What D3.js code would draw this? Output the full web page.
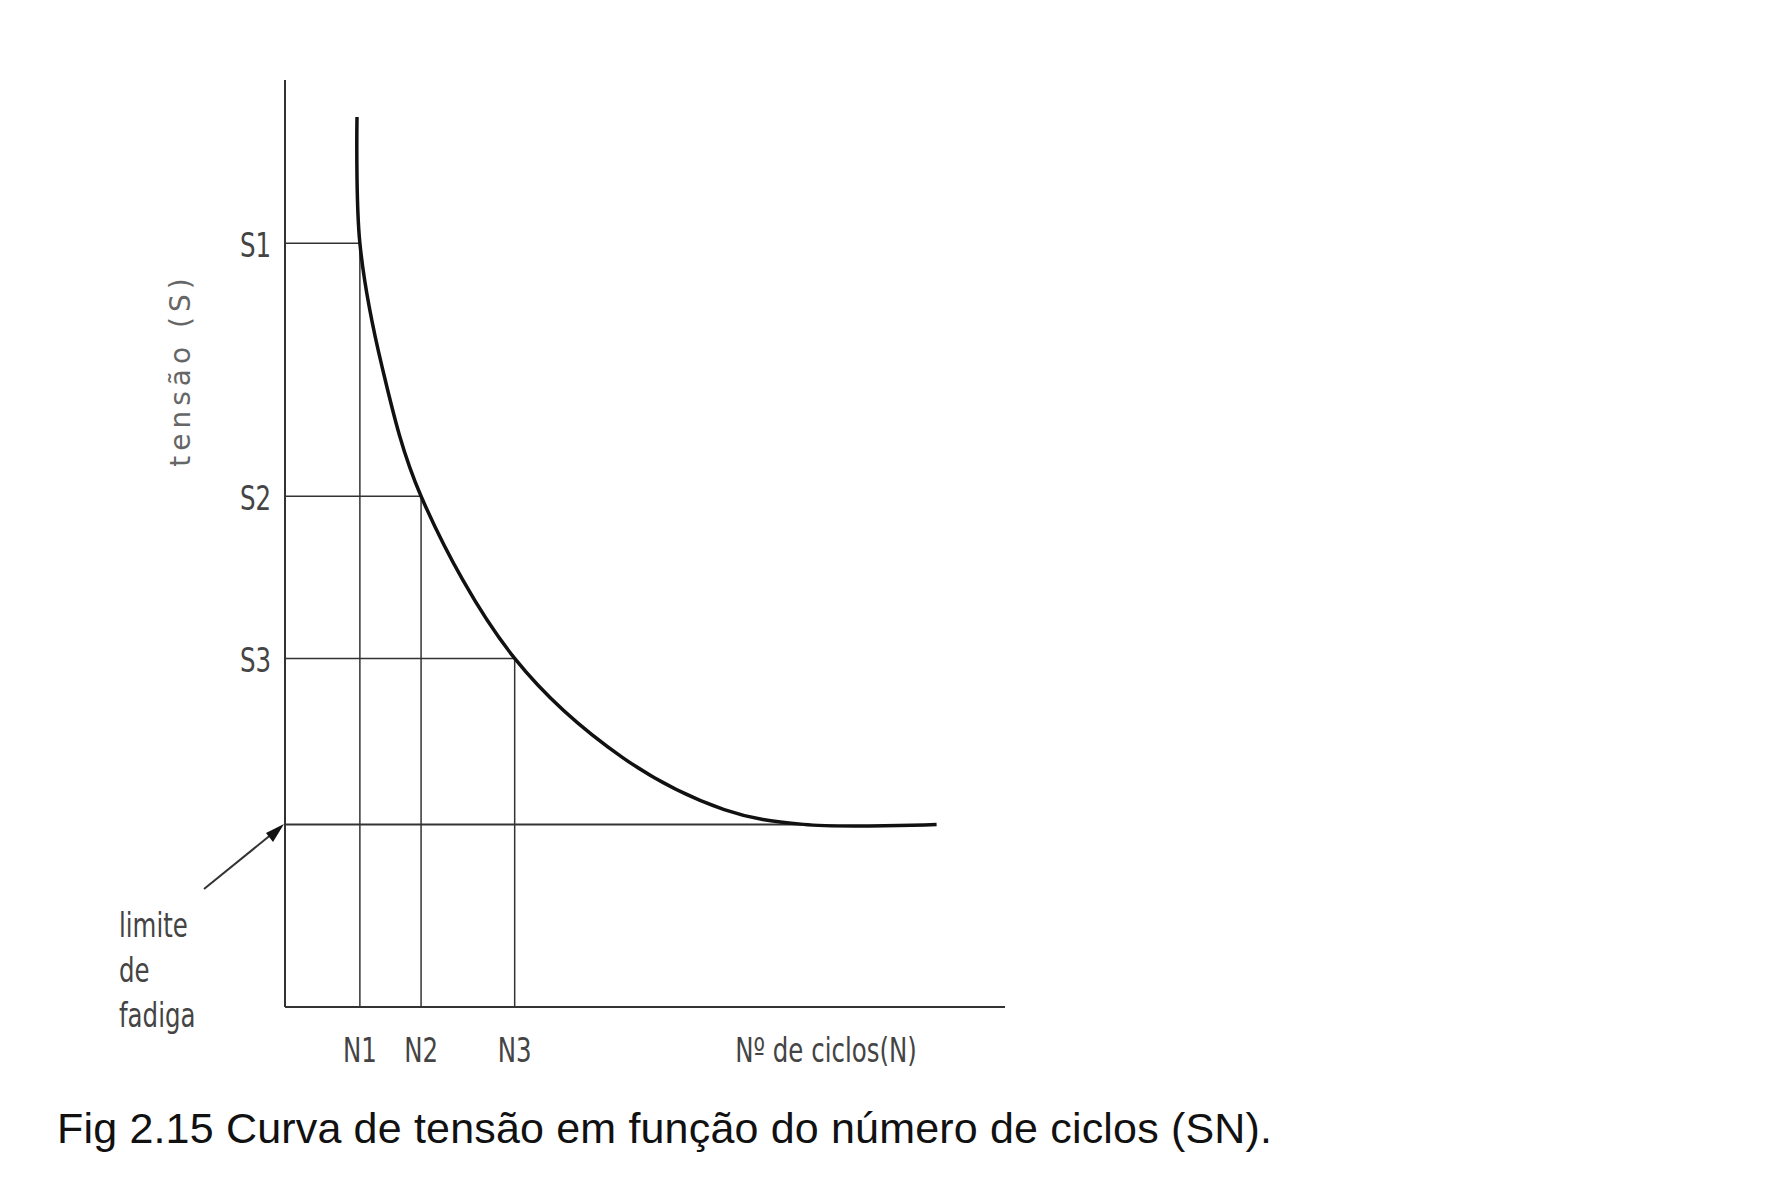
<!DOCTYPE html>
<html><head><meta charset="utf-8">
<script src="https://cdn.jsdelivr.net/npm/d3@7"></script>
<style>body{margin:0;background:#fff}</style></head>
<body><svg id="c" width="1770" height="1177"></svg>
<script>
const nTicks = ["N1","N2","N3"];
const nValues = [1.04, 1.89, 3.19];
const sTicks = ["S1","S2","S3"];
const sValues = [8.24, 5.51, 3.76];
const fatigueLimit = 1.97;
const curveX = [1.0, 1.04, 1.35, 1.89, 3.19, 4.69, 6.1, 7.2, 9.05];
const curveY = [9.6, 8.24, 6.9, 5.51, 3.76, 2.69, 2.13, 1.97, 1.97];

const svg = d3.select("#c");
const x = d3.scaleLinear().domain([0,10]).range([285,1005]);
const y = d3.scaleLinear().domain([0,10]).range([1007,80]);
const ink = "#333", font = "'DejaVu Sans',sans-serif";

function lbl(tx,ty,t,anchor,w){
  const g = svg.append("g").attr("transform",`translate(${tx},${ty}) scale(0.72,1)`);
  g.append("text").attr("text-anchor",anchor).attr("font-family",font).attr("font-size",34).attr("fill","#444").text(t);
}

svg.append("line").attr("x1",x(0)).attr("x2",x(0)).attr("y1",y(10)).attr("y2",y(0)).attr("stroke",ink).attr("stroke-width",2);
svg.append("line").attr("x1",x(0)).attr("x2",x(10)).attr("y1",y(0)).attr("y2",y(0)).attr("stroke",ink).attr("stroke-width",2);

sValues.forEach((s,i)=>{
  svg.append("line").attr("x1",x(0)).attr("x2",x(nValues[i])).attr("y1",y(s)).attr("y2",y(s)).attr("stroke",ink).attr("stroke-width",1.5);
  svg.append("line").attr("x1",x(nValues[i])).attr("x2",x(nValues[i])).attr("y1",y(s)).attr("y2",y(0)).attr("stroke",ink).attr("stroke-width",1.5);
  lbl(x(0)-14, y(s)+14, sTicks[i], "end");
  lbl(x(nValues[i]), y(0)+55, nTicks[i], "middle");
});
svg.append("line").attr("x1",x(0)).attr("x2",x(7.2)).attr("y1",y(fatigueLimit)).attr("y2",y(fatigueLimit)).attr("stroke",ink).attr("stroke-width",2);

const pts = curveX.map((v,i)=>[v,curveY[i]]);
svg.append("path").attr("d",d3.line().x(d=>x(d[0])).y(d=>y(d[1])).curve(d3.curveCatmullRom.alpha(0.5))(pts))
  .attr("fill","none").attr("stroke","#111").attr("stroke-width",3.5);

svg.append("line").attr("x1",204).attr("y1",889).attr("x2",278).attr("y2",829).attr("stroke",ink).attr("stroke-width",2);
svg.append("path").attr("d","M284,824 L266,833 L273,842 Z").attr("fill","#111");

lbl(826, y(0)+55, "Nº de  ciclos(N)", "middle");
svg.append("text").attr("transform","translate(190,370) rotate(-90)").attr("text-anchor","middle").attr("font-family",font).attr("font-size",28).attr("letter-spacing",5).attr("fill","#666").text("tensão  (S)");
["limite","de","fadiga"].forEach((t,i)=>lbl(119, 937+i*45, t, "start"));
svg.append("text").attr("x",57).attr("y",1143).attr("font-family","'Liberation Sans',Arial,sans-serif").attr("font-size",43).attr("fill","#111").attr("textLength",1215).text("Fig 2.15 Curva de tensão em função do número de ciclos (SN).");
</script></body></html>
